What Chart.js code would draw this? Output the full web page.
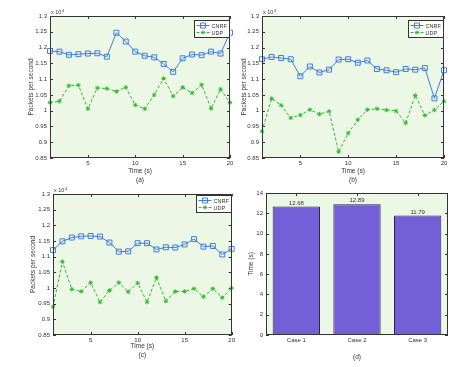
<!DOCTYPE html>
<html>
<head>
<meta charset="utf-8">
<script src="https://cdn.jsdelivr.net/npm/chart.js@4/dist/chart.umd.min.js"></script>
<style>
  html, body { margin: 0; padding: 0; background: #fff; }
  body { width: 474px; height: 367px; position: relative; overflow: hidden; }
  canvas { position: absolute; }
</style>
</head>
<body>
<canvas id="chartA" width="237" height="185" style="left:0;top:0"></canvas>
<canvas id="chartB" width="237" height="185" style="left:237px;top:0"></canvas>
<canvas id="chartC" width="237" height="187" style="left:0;top:180px"></canvas>
<canvas id="chartD" width="237" height="187" style="left:237px;top:180px"></canvas>
<script>
// --- data (packets per second, x 10^4) ---
const timeSteps = [1, 2, 3, 4, 5, 6, 7, 8, 9, 10, 11, 12, 13, 14, 15, 16, 17, 18, 19, 20];
const timeTicks = [5, 10, 15, 20];
const rateTicks = [0.85, 0.9, 0.95, 1, 1.05, 1.1, 1.15, 1.2, 1.25, 1.3];

const cnrfA = [1.189, 1.187, 1.177, 1.179, 1.181, 1.182, 1.171, 1.247, 1.219, 1.187, 1.174, 1.169, 1.148, 1.123, 1.166, 1.178, 1.176, 1.187, 1.181, 1.247];
const udpA  = [1.026, 1.030, 1.079, 1.081, 1.006, 1.072, 1.070, 1.061, 1.074, 1.018, 1.006, 1.050, 1.102, 1.046, 1.074, 1.056, 1.082, 1.007, 1.068, 1.026];

const cnrfB = [1.163, 1.170, 1.167, 1.163, 1.109, 1.140, 1.121, 1.130, 1.162, 1.163, 1.152, 1.159, 1.132, 1.128, 1.122, 1.132, 1.130, 1.135, 1.039, 1.128];
const udpB  = [0.935, 1.038, 1.017, 0.977, 0.986, 1.003, 0.989, 0.998, 0.870, 0.929, 0.971, 1.003, 1.006, 1.002, 0.999, 0.961, 1.048, 0.985, 1.002, 1.030];

const cnrfC = [1.121, 1.149, 1.161, 1.165, 1.166, 1.164, 1.145, 1.116, 1.117, 1.143, 1.143, 1.123, 1.130, 1.129, 1.139, 1.156, 1.132, 1.134, 1.107, 1.125];
const udpC  = [0.940, 1.084, 0.996, 0.989, 1.017, 0.955, 0.992, 1.017, 0.988, 1.016, 0.955, 1.033, 0.958, 0.989, 0.989, 0.998, 0.972, 0.998, 0.969, 1.000];

const caseLabels = ['Case 1', 'Case 2', 'Case 3'];
const caseTimes = [12.68, 12.89, 11.79];
const caseTicks = [0, 2, 4, 6, 8, 10, 12, 14];

// --- look ---
const BG = '#edf7e6';
const INK = '#333333';
const BLUE = '#3c7fe0';
const GREEN = '#2dbd2d';
const BAR = '#735fd7';

Chart.defaults.font.family = "'Liberation Sans Narrow', 'Liberation Sans', sans-serif";
Chart.defaults.font.size = 6;
Chart.defaults.color = INK;
Chart.defaults.animation = false;

function drawMarker(ctx, style, x, y, color) {
    ctx.strokeStyle = color;
    ctx.lineWidth = 1;
    ctx.setLineDash([]);
    ctx.beginPath();
    if (style === 'rect') {
        ctx.rect(x - 2.5, y - 2.5, 5, 5);
    } else {
        const r = 2;
        ctx.moveTo(x - r, y); ctx.lineTo(x + r, y);
        ctx.moveTo(x, y - r); ctx.lineTo(x, y + r);
        ctx.moveTo(x - r * 0.7, y - r * 0.7); ctx.lineTo(x + r * 0.7, y + r * 0.7);
        ctx.moveTo(x - r * 0.7, y + r * 0.7); ctx.lineTo(x + r * 0.7, y - r * 0.7);
    }
    ctx.stroke();
}

// matlab-ish box: green plot background, frame, inward ticks, x10^4 note, legend in the corner
const framePlugin = {
    id: 'matlabFrame',
    beforeDraw(chart) {
        const { ctx, chartArea: a } = chart;
        ctx.save();
        ctx.fillStyle = BG;
        ctx.fillRect(a.left, a.top, a.width, a.height);
        ctx.restore();
    },
    beforeDatasetsDraw(chart, args, opts) {
        const { ctx, chartArea: a, scales } = chart;
        ctx.save();
        ctx.strokeStyle = INK;
        ctx.lineWidth = 1;
        ctx.beginPath();
        scales.x.ticks.forEach((t, i) => {
            const px = Math.round(scales.x.getPixelForTick(i)) + 0.5;
            ctx.moveTo(px, a.top); ctx.lineTo(px, a.top + 3);
            if (!opts.noBottomTicks) { ctx.moveTo(px, a.bottom); ctx.lineTo(px, a.bottom - 3); }
        });
        scales.y.ticks.forEach((t, i) => {
            const py = Math.round(scales.y.getPixelForTick(i)) + 0.5;
            ctx.moveTo(a.left, py); ctx.lineTo(a.left + 3, py);
            ctx.moveTo(a.right, py); ctx.lineTo(a.right - 3, py);
        });
        ctx.stroke();
        ctx.restore();
    },
    afterDraw(chart, args, opts) {
        const { ctx, chartArea: a } = chart;
        ctx.save();
        ctx.strokeStyle = INK;
        ctx.lineWidth = 1;
        ctx.strokeRect(Math.round(a.left) + 0.5, Math.round(a.top) + 0.5, Math.round(a.width) - 1, Math.round(a.height) - 1);

        ctx.fillStyle = INK;
        if (opts.multiplier) {
            ctx.font = "5.5px 'Liberation Sans Narrow', 'Liberation Sans', sans-serif";
            ctx.textBaseline = 'alphabetic';
            ctx.fillText('x 10', a.left + 1, a.top - 2);
            const w = ctx.measureText('x 10').width;
            ctx.font = "4px 'Liberation Sans Narrow', 'Liberation Sans', sans-serif";
            ctx.fillText('4', a.left + 1.5 + w, a.top - 4.5);
        }

        if (opts.legend) {
            const ds = chart.data.datasets;
            const bw = 36, bh = 17;
            const bx = Math.round(a.right) - bw + 0.5;
            const by = Math.round(a.top) + opts.legendTop + 0.5;
            ctx.fillStyle = '#ffffff';
            ctx.fillRect(bx, by, bw, bh);
            ctx.strokeRect(bx, by, bw - 1, bh);
            ds.forEach((d, i) => {
                const cy = by + 5 + i * 7;
                ctx.strokeStyle = d.borderColor;
                ctx.setLineDash(d.borderDash || []);
                ctx.beginPath();
                ctx.moveTo(bx + 2, cy); ctx.lineTo(bx + 15, cy);
                ctx.stroke();
                drawMarker(ctx, d.pointStyle, bx + 8.5, cy, d.borderColor);
                ctx.fillStyle = INK;
                ctx.font = "5.5px 'Liberation Sans Narrow', 'Liberation Sans', sans-serif";
                ctx.textBaseline = 'middle';
                ctx.fillText(d.label, bx + 17, cy + 0.5);
            });
        }
        ctx.restore();
    }
};

const barLabelPlugin = {
    id: 'barLabels',
    afterDatasetsDraw(chart) {
        const { ctx } = chart;
        const meta = chart.getDatasetMeta(0);
        ctx.save();
        ctx.fillStyle = INK;
        ctx.font = "6px 'Liberation Sans Narrow', 'Liberation Sans', sans-serif";
        ctx.textAlign = 'center';
        ctx.textBaseline = 'bottom';
        meta.data.forEach((bar, i) => {
            ctx.fillText(caseTimes[i].toFixed(2), bar.x, bar.y - 0.5);
        });
        ctx.restore();
    }
};

function rateChart(id, cnrf, udp, p) {
    const toPoints = arr => timeSteps.map((t, i) => ({ x: t, y: arr[i] }));
    return new Chart(document.getElementById(id), {
        type: 'line',
        data: {
            datasets: [{
                label: 'CNRF',
                data: toPoints(cnrf),
                borderColor: BLUE,
                borderWidth: 1,
                pointStyle: 'rect',
                pointRadius: 3.5,
                pointBorderColor: BLUE,
                pointBackgroundColor: 'rgba(0,0,0,0)',
                pointBorderWidth: 1,
                clip: false
            }, {
                label: 'UDP',
                data: toPoints(udp),
                borderColor: GREEN,
                borderWidth: 1,
                borderDash: [3, 2],
                pointStyle: 'star',
                pointRadius: 2.2,
                pointBorderColor: GREEN,
                pointBorderWidth: 1,
                clip: false
            }]
        },
        options: {
            responsive: false,
            layout: { padding: { top: p.top, right: p.right, left: 0, bottom: 0 } },
            plugins: {
                legend: { display: false },
                tooltip: { enabled: false },
                matlabFrame: { multiplier: true, legend: true, legendTop: p.legendTop }
            },
            scales: {
                x: {
                    type: 'linear',
                    min: 1,
                    max: 20,
                    afterBuildTicks: s => { s.ticks = timeTicks.map(v => ({ value: v })); },
                    afterFit: s => { s.height = p.xHeight; },
                    grid: { display: false, drawTicks: false },
                    border: { display: false },
                    ticks: { padding: 2, maxRotation: 0 },
                    title: {
                        display: true,
                        text: ['Time (s)', p.tag],
                        font: { size: 6.5, lineHeight: 1.4 },
                        padding: { top: 0, bottom: p.titleBottom }
                    }
                },
                y: {
                    type: 'linear',
                    min: 0.85,
                    max: 1.3,
                    afterBuildTicks: s => { s.ticks = rateTicks.map(v => ({ value: v })); },
                    afterFit: s => { s.width = p.yWidth; },
                    grid: { display: false, drawTicks: false },
                    border: { display: false },
                    ticks: { padding: 3, callback: v => String(+v.toFixed(2)) },
                    title: {
                        display: true,
                        text: 'Packets per second',
                        font: { size: 6.5, lineHeight: 1.2 },
                        padding: { top: p.yTitleX - 4, bottom: 0 }
                    }
                }
            }
        },
        plugins: [framePlugin]
    });
}

rateChart('chartA', cnrfA, udpA, { top: 16, right: 7, xHeight: 27, yWidth: 50, yTitleX: 31, tag: '(a)', titleBottom: 0, legendTop: 4 });
rateChart('chartB', cnrfB, udpB, { top: 16, right: 30, xHeight: 27, yWidth: 25, yTitleX: 7, tag: '(b)', titleBottom: 0, legendTop: 4 });
rateChart('chartC', cnrfC, udpC, { top: 14, right: 4, xHeight: 32, yWidth: 53, yTitleX: 33, tag: '(c)', titleBottom: 7.5, legendTop: 1 });

new Chart(document.getElementById('chartD'), {
    type: 'bar',
    data: {
        labels: caseLabels,
        datasets: [{
            data: caseTimes,
            backgroundColor: BAR,
            borderColor: '#2a2545',
            borderWidth: 1,
            borderSkipped: false,
            barPercentage: 0.78,
            categoryPercentage: 1
        }]
    },
    options: {
        responsive: false,
        layout: { padding: { top: 13, right: 26, left: 0, bottom: 0 } },
        plugins: {
            legend: { display: false },
            tooltip: { enabled: false },
            matlabFrame: { multiplier: false, legend: false, noBottomTicks: true }
        },
        scales: {
            x: {
                afterFit: s => { s.height = 32; },
                grid: { display: false, drawTicks: false },
                border: { display: false },
                ticks: { padding: 2, maxRotation: 0 },
                title: {
                    display: true,
                    text: '(d)',
                    font: { size: 6.5, lineHeight: 1.4 },
                    padding: { top: 0, bottom: 5.5 }
                }
            },
            y: {
                min: 0,
                max: 14,
                afterBuildTicks: s => { s.ticks = caseTicks.map(v => ({ value: v })); },
                afterFit: s => { s.width = 29; },
                grid: { display: false, drawTicks: false },
                border: { display: false },
                ticks: { padding: 3 },
                title: {
                    display: true,
                    text: 'Time (s)',
                    font: { size: 6.5, lineHeight: 1.2 },
                    padding: { top: 10, bottom: 0 }
                }
            }
        }
    },
    plugins: [framePlugin, barLabelPlugin]
});
</script>
</body>
</html>
